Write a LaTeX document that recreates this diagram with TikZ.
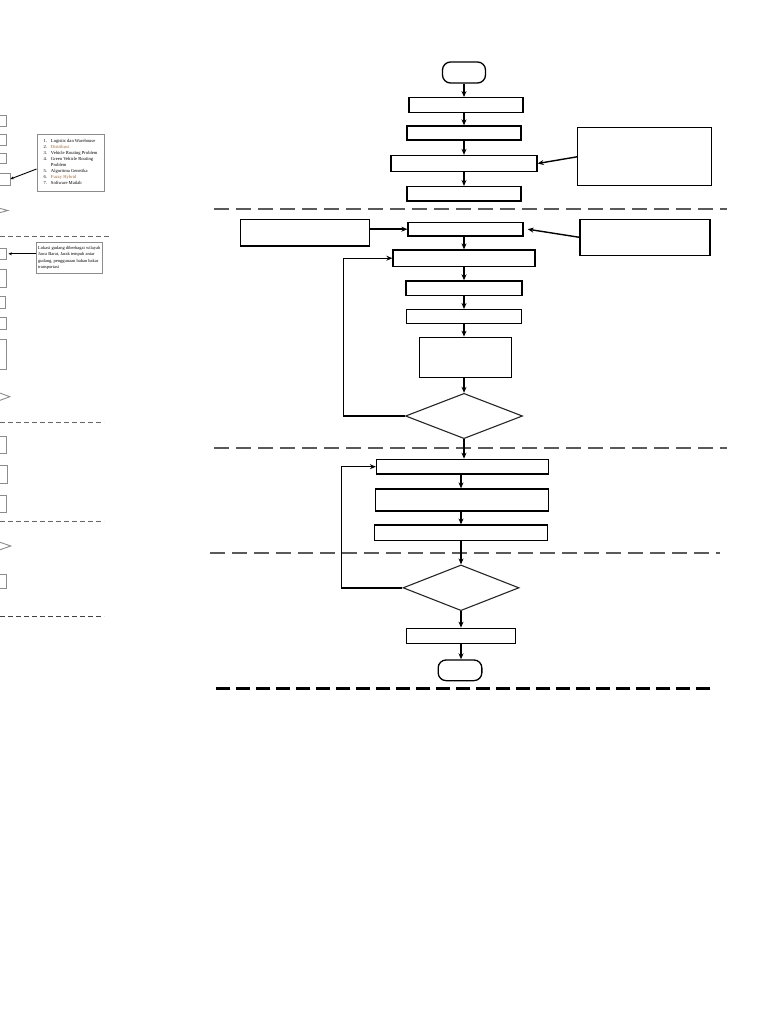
\documentclass[tikz,border=0pt]{standalone}
\usepackage{fontspec}
\setmainfont{Liberation Serif}
\usetikzlibrary{shapes.geometric, arrows.meta, positioning}
\definecolor{lineGray}{HTML}{5A5A5A}
\definecolor{sideGray}{HTML}{8C8C8C}
\definecolor{itemBrown}{HTML}{9A6A3A}
\tikzset{
  proc/.style={draw=black, line width=1.3pt, fill=white, inner sep=0pt},
  term/.style={proc, rounded corners=8pt},
  dec/.style={diamond, draw=black!85, line width=1.1pt, fill=white, inner sep=0pt},
  flow/.style={-{Stealth[length=6pt, width=5pt]}, line width=1.4pt},
  sect/.style={draw=lineGray, line width=2pt, dash pattern=on 15pt off 7pt},
  sbox/.style={draw=sideGray, line width=0.9pt, fill=white, inner sep=0pt},
  sdec/.style={diamond, draw=sideGray, line width=0.9pt, inner sep=0pt},
  sdiv/.style={draw=black!60, line width=1.1pt, dash pattern=on 5pt off 3pt},
  note/.style={draw=sideGray, line width=0.9pt, fill=white, inner sep=1pt,
               align=left, font=\fontsize{4.6}{6}\selectfont},
  sflow/.style={-{Stealth[length=3.5pt, width=3pt]}, line width=0.9pt},
}

\begin{document}
\begin{tikzpicture}[x=1pt, y=-1pt]
\useasboundingbox (0,0) rectangle (768,1024);
\clip (0,0) rectangle (768,1024);

% left column (cut off)
\node[sbox, minimum width=30pt, minimum height=10.7pt] (sb1) at (-9,121.3) {};
\node[sbox, minimum width=30pt, minimum height=10.7pt] (sb2) at (-9,139.7) {};
\node[sbox, minimum width=30pt, minimum height=10pt] (sb3) at (-9,158.3) {};
\node[sbox, minimum width=34pt, minimum height=12pt] (sb4) at (-7,179) {};
\node[sdec, minimum width=40pt, minimum height=11pt] (sd1) at (-12,210.5) {};
\node[sbox, minimum width=30pt, minimum height=11pt] (sb5) at (-9,253.8) {};
\node[sbox, minimum width=30pt, minimum height=18pt] (sb6) at (-9,278.3) {};
\node[sbox, minimum width=29pt, minimum height=11.6pt] (sb7) at (-9.5,302.5) {};
\node[sbox, minimum width=30pt, minimum height=11.7pt] (sb8) at (-9,323.2) {};
\node[sbox, minimum width=30pt, minimum height=30pt] (sb9) at (-9,354.3) {};
\node[sdec, minimum width=40pt, minimum height=15pt] (sd2) at (-10,396.7) {};
\node[sbox, minimum width=30pt, minimum height=16.6pt] (sb10) at (-9,445) {};
\node[sbox, minimum width=31pt, minimum height=17.6pt] (sb11) at (-8.5,474.5) {};
\node[sbox, minimum width=30pt, minimum height=17.7pt] (sb12) at (-9,503.8) {};
\node[sdec, minimum width=40pt, minimum height=14pt] (sd3) at (-9,546) {};
\node[sbox, minimum width=30pt, minimum height=14.3pt] (sb13) at (-9,581.2) {};

\draw[sdiv] (0,236.5) -- (110,236.5);
\draw[sdiv] (0,422.7) -- (104,422.7);
\draw[sdiv] (0,521.7) -- (104,521.7);
\draw[sdiv, draw=black!75, line width=1.3pt] (0,616.7) -- (104,616.7);

% notes
\node[note, minimum width=67pt, minimum height=57pt] (lb) at (70.5,162.5) {%
  \begin{tabular}{@{}r@{\hspace{4pt}}l@{}}
  1. & Logistic dan Warehouse\\
  2. & \textcolor{itemBrown}{Distribusi}\\
  3. & Vehicle Routing Problem\\
  4. & Green Vehicle Routing\\
     & Problem\\
  5. & Algoritma Genetika\\
  6. & \textcolor{itemBrown}{Fuzzy Hybrid}\\
  7. & Software Matlab
  \end{tabular}};
\node[note, minimum width=66pt, minimum height=30.6pt, font=\fontsize{4.5}{6.4}\selectfont] (nb) at (69.2,258)
  {Lokasi gudang diberbagai wilayah\\Jawa Barat, Jarak tempuh antar\\gudang, penggunaan bahan bakar\\transportasi};

\draw[sflow] ([yshift=-6.5pt]lb.west) -- (sb4.east);
\draw[sflow, shorten >=2pt] (nb.west |- sb5.east) -- (sb5.east);

% section dividers
\draw[sect] (214,209) -- (727,209);
\draw[sect] (214,448) -- (727,448);
\draw[sect] (210,552.5) -- (720,552.5);
\draw[sect, draw=black, line width=2.4pt, dash pattern=on 14pt off 6pt] (216,688.5) -- (713,688.5);

% main flow, first part
\node[term, minimum width=43pt, minimum height=21pt] (start) at (464,72.5) {};
\node[proc, minimum width=114pt, minimum height=15pt] (b1) at (466,105.2) {};
\node[proc, minimum width=114pt, minimum height=14pt] (b2) at (464,133) {};
\node[proc, minimum width=146pt, minimum height=16pt] (b3) at (464,163.5) {};
\node[proc, minimum width=114pt, minimum height=14.3pt] (b4) at (464,193.8) {};
\node[proc, minimum width=134pt, minimum height=58pt] (rA) at (644.8,156.8) {};

% second part
\node[proc, minimum width=115pt, minimum height=13.7pt] (b5) at (465.5,229.2) {};
\node[proc, minimum width=129pt, minimum height=26.7pt] (lB) at (304.7,232.7) {};
\node[proc, minimum width=130pt, minimum height=36pt] (rC) at (645,237.3) {};
\node[proc, minimum width=142pt, minimum height=16.3pt] (b6) at (464,258.2) {};
\node[proc, minimum width=116pt, minimum height=14.7pt] (b7) at (464,288.3) {};
\node[proc, minimum width=115pt, minimum height=13.7pt] (b8) at (464,316.5) {};
\node[proc, minimum width=92pt, minimum height=40pt] (b9) at (465.5,357.3) {};
\node[dec, minimum width=117pt, minimum height=45.3pt] (d1) at (464,416) {};

% third part
\node[proc, minimum width=172pt, minimum height=14.7pt] (b10) at (462.5,466.7) {};
\node[proc, minimum width=173pt, minimum height=22pt] (b11) at (462,500) {};
\node[proc, minimum width=173pt, minimum height=15.3pt] (b12) at (461.2,532.7) {};
\node[dec, minimum width=116pt, minimum height=45.7pt] (d2) at (461,587.8) {};
\node[proc, minimum width=108.6pt, minimum height=15pt] (b13) at (461,635.8) {};
\node[term, minimum width=43.7pt, minimum height=20.7pt] (stop) at (460,670.3) {};

% arrows down the column
\foreach \a/\b in {start/b1, b1/b2, b2/b3, b3/b4, b5/b6, b6/b7, b7/b8, b8/b9, b9/d1, d1/b10}
  \draw[flow] (\a.south -| start) -- (\b.north -| start);
\foreach \a/\b in {b10/b11, b11/b12, b12/d2, d2/b13, b13/stop}
  \draw[flow] (\a.south -| d2) -- (\b.north -| d2);

% side inputs
\draw[flow] (rA.west) -- (b3.east);
\draw[flow] (lB.east |- b5.west) -- (b5.west);
\draw[flow] (rC.west) -- ([xshift=4pt]b5.east);

% loops back
\draw[flow] (d1.west) -- ++(-61.5,0) |- (b6.west);
\draw[flow] (d2.west) -- ++(-61,0) |- (b10.west);

\end{tikzpicture}
\end{document}
